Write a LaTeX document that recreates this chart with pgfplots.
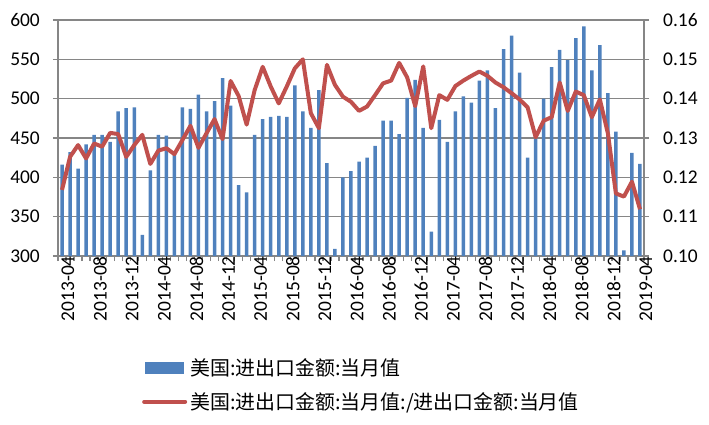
\documentclass[border=0pt]{standalone}
\usepackage{pgfplots}
\pgfplotsset{compat=1.18}
\usepackage{pgfplotstable}
\usepackage{fontspec}
\setmainfont{Carlito}
\newfontfamily\cjk{Noto Sans CJK SC}
\definecolor{barblue}{HTML}{4F81BD}
\definecolor{linered}{HTML}{C0504D}
\definecolor{gridgray}{HTML}{868686}

% monthly US trade value (left axis) and its share (right axis), 2013-04 .. 2019-04
\pgfplotstableread{
idx val ratio
0 416 0.1168
1 432 0.1252
2 411 0.1282
3 442 0.1248
4 454 0.1286
5 454 0.1278
6 445 0.1313
7 484 0.1310
8 488 0.1252
9 489 0.1282
10 327 0.1308
11 409 0.1234
12 454 0.1268
13 453 0.1274
14 430 0.1259
15 489 0.1295
16 487 0.1331
17 505 0.1275
18 484 0.1312
19 497 0.1348
20 526 0.1297
21 491 0.1445
22 390 0.1407
23 381 0.1334
24 454 0.1422
25 474 0.1481
26 477 0.1431
27 478 0.1388
28 477 0.1431
29 517 0.1477
30 484 0.1500
31 463 0.1363
32 511 0.1325
33 418 0.1486
34 309 0.1435
35 400 0.1405
36 408 0.1392
37 420 0.1369
38 425 0.1380
39 440 0.1409
40 472 0.1439
41 472 0.1446
42 455 0.1491
43 501 0.1454
44 524 0.1381
45 463 0.1482
46 331 0.1325
47 473 0.1409
48 445 0.1397
49 484 0.1432
50 503 0.1446
51 495 0.1458
52 523 0.1469
53 536 0.1458
54 488 0.1441
55 563 0.1429
56 580 0.1414
57 533 0.1398
58 425 0.1378
59 449 0.1302
60 500 0.1344
61 540 0.1353
62 562 0.1441
63 549 0.1369
64 577 0.1418
65 592 0.1409
66 536 0.1353
67 568 0.1398
68 507 0.1312
69 458 0.1159
70 307 0.1151
71 431 0.1189
72 417 0.1119
}\tradedata

\begin{document}
\begin{tikzpicture}
\pgfplotsset{
  base/.style={
    scale only axis, width=586bp, height=236bp,
    at={(0bp,0bp)}, anchor=south west,
    xmin=-0.5, xmax=72.5,
    font=\fontsize{19.5}{23}\selectfont,
    /pgf/number format/assume math mode=true,
    tick align=outside,
    major tick length=5bp,
    tick style={gridgray, line width=1.3bp},
    axis line style={gridgray, line width=1.3bp},
    clip=false,
  }
}
\useasboundingbox (-58bp,-169bp) rectangle (651bp,256bp);
\begin{axis}[base,
  ymin=300, ymax=600, ytick={300,350,...,600},
  axis x line*=bottom, axis y line*=left,
  ymajorgrids, grid style={gridgray, line width=1.3bp},
  xtick={-0.5,0.5,...,72.5}, xticklabels={},
  extra x ticks={0,4,...,72},
  extra x tick style={major tick length=0bp, grid=none},
  extra x tick labels={2013-04,2013-08,2013-12,2014-04,2014-08,2014-12,2015-04,2015-08,2015-12,2016-04,2016-08,2016-12,2017-04,2017-08,2017-12,2018-04,2018-08,2018-12,2019-04},
  x tick label style={rotate=90, anchor=east, inner sep=0pt, xshift=0bp, yshift=-6bp},
  y tick label style={inner sep=0pt, xshift=-13bp},
]
\addplot[ybar, bar width=3.5bp, fill=barblue, draw=none, bar shift=0pt] table[x=idx, y=val] {\tradedata};
\end{axis}
\begin{axis}[base,
  ymin=0.10, ymax=0.16, ytick={0.10,0.11,...,0.16},
  axis y line*=right, axis x line=none,
  y tick label style={inner sep=0pt, xshift=14bp, /pgf/number format/.cd, fixed, fixed zerofill, precision=2},
  legend style={at={(axis description cs:0.1433,-0.426)}, anchor=north west, draw=none, fill=none,
    font=\cjk\fontsize{20}{23.5}\selectfont, inner sep=0pt, row sep=11.5bp,
    /tikz/every odd column/.style={column sep=1bp}},
  legend cell align=left,
]
\addlegendimage{legend image code/.code={\fill[barblue] (0bp,-5.5bp) rectangle (38bp,5.5bp);}}
\addlegendentry{美国:进出口金额:当月值}
\addplot[linered, line width=4bp, line join=round,
  legend image code/.code={\draw[linered, line width=4bp, line cap=round] (-1bp,0bp) -- (40bp,0bp);}]
  table[x=idx, y=ratio] {\tradedata};
\addlegendentry{美国:进出口金额:当月值:/进出口金额:当月值}
\end{axis}
\end{tikzpicture}
\end{document}
